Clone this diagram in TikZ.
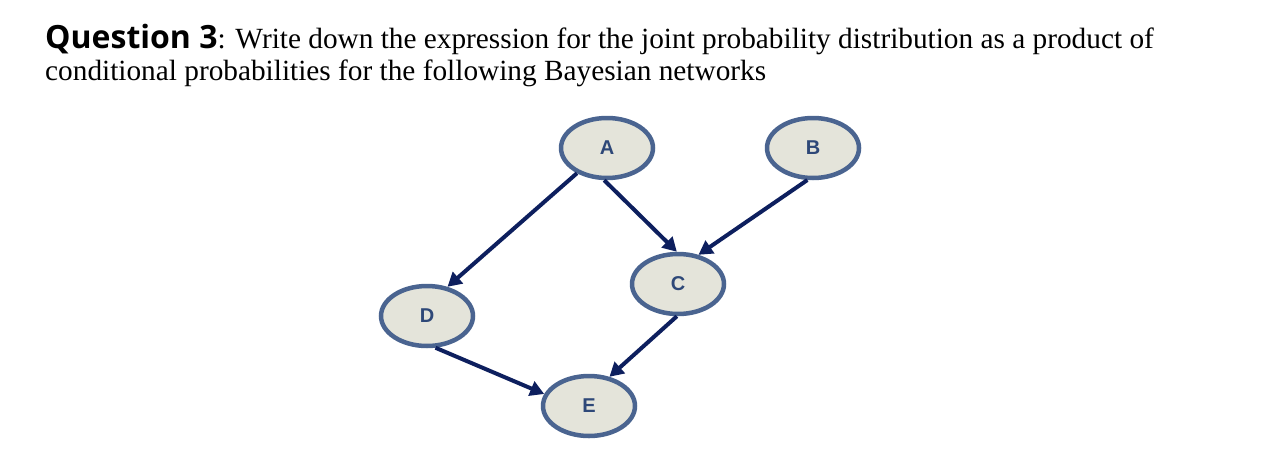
\documentclass[tikz,border=0pt]{standalone}
\usepackage{fontspec}
\setmainfont{Liberation Serif}
\newfontfamily\headfont{Open Sans}
\newfontfamily\labfont{Liberation Sans}
\usetikzlibrary{shapes.geometric,arrows.meta}
\definecolor{nodefill}{HTML}{E4E4DA}
\definecolor{nodeedge}{HTML}{4A6490}
\definecolor{arrowc}{HTML}{0D1F5E}
\definecolor{labc}{HTML}{2E4878}
\tikzset{
  bnode/.style={ellipse, draw=nodeedge, fill=nodefill, line width=4.5pt, minimum width=92pt, minimum height=60pt, inner sep=0pt, font=\labfont\bfseries\fontsize{20}{20}\selectfont, text=labc},
  edge/.style={draw=arrowc, line width=4pt, -{Triangle[length=14pt,width=15pt]}}
}
\begin{document}
\begin{tikzpicture}[x=1pt,y=-1pt]
\useasboundingbox (0,0) rectangle (1284,474);
\node[anchor=base west, inner sep=0pt, font=\fontsize{29.3}{29.3}\selectfont] (t1) at (45,48) {{\headfont\bfseries\fontsize{32}{32}\selectfont Question 3}: Write down the expression for the joint probability distribution as a product of};
\node[anchor=base west, inner sep=0pt, font=\fontsize{29.3}{29.3}\selectfont] (t2) at (45,80) {conditional probabilities for the following Bayesian networks};
\node[bnode] (A) at (607,148) {A};
\node[bnode] (B) at (813,148) {B};
\node[bnode] (C) at (678,284) {C};
\node[bnode] (D) at (427,316) {D};
\node[bnode] (E) at (589,406) {E};
\path[edge] (A.-140) -- (D.55);
\path[edge] (A.-95) -- (C.92);
\path[edge] (B.-100) -- (C.55);
\path[edge] (D.-75) -- (E.165);
\path[edge] (C.-92) -- (E.55);
\end{tikzpicture}
\end{document}
